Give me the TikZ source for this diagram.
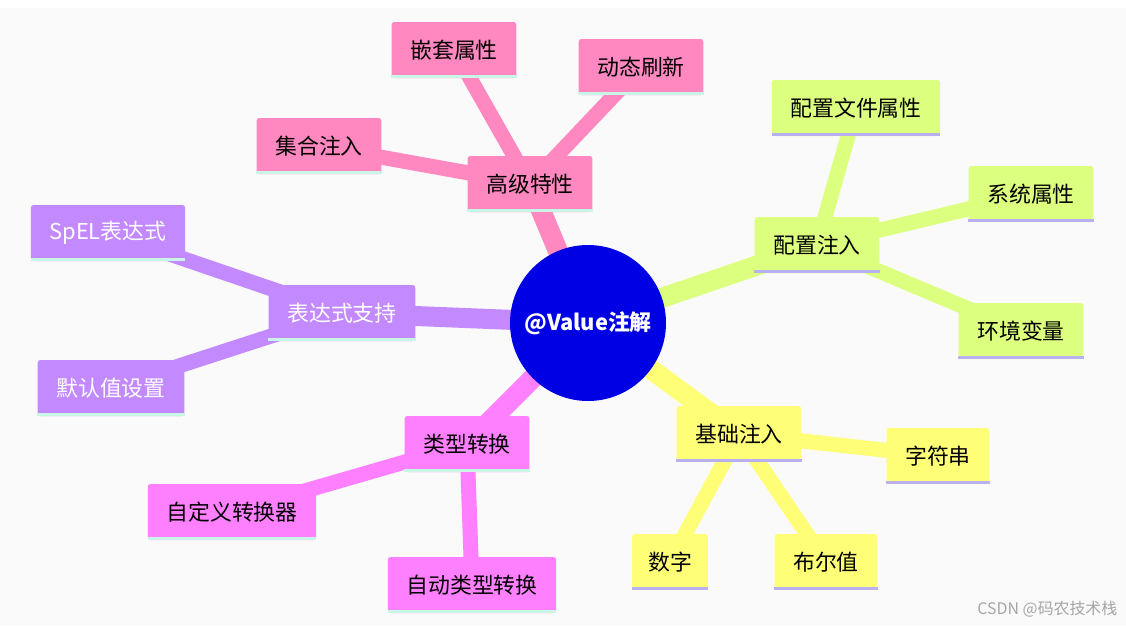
\documentclass[tikz,border=0pt]{standalone}
\usepackage{fontspec}
\setmainfont{Noto Sans CJK SC}
\usetikzlibrary{backgrounds}
\begin{document}
\begin{tikzpicture}[x=0.0265cm,y=-0.0265cm,
  box/.style={font=\fontsize{16.5}{19}\selectfont, inner xsep=14pt, minimum height=56*0.0265cm, rounded corners=2pt, text=black},
  pinkb/.style={box, fill=pinkc},
  limeb/.style={box, fill=limec},
  purb/.style={box, fill=purc, text=white},
  magb/.style={box, fill=magc},
  yelb/.style={box, fill=yelc},
  main/.style={line width=20*0.0265cm, line cap=round},
  sub/.style={line width=15*0.0265cm, line cap=round}]
\definecolor{pinkc}{HTML}{FF88C0}
\definecolor{limec}{HTML}{DDFF80}
\definecolor{purc}{HTML}{C38AFF}
\definecolor{magc}{HTML}{FF80FF}
\definecolor{yelc}{HTML}{FFFF77}
\definecolor{ulcyan}{HTML}{C8F5E6}
\definecolor{ullav}{HTML}{B8B0F0}
\useasboundingbox (0,0) rectangle (1126,626);
\newcommand\ul[2]{\draw[#2, line width=3.5*0.0265cm] ([yshift=1.5pt]#1.south west) -- ([yshift=1.5pt]#1.south east);}
\node[circle, fill=blue!90!black, minimum size=156*0.0265cm, text=white, font=\fontsize{16.5}{19}\selectfont\bfseries] (c) at (588,323) {@Value注解};
\path
 (530,184) node[pinkb] (g) {高级特性}
 (454,50) node[pinkb] (g1) {嵌套属性}
 (641,67) node[pinkb] (g2) {动态刷新}
 (319,146) node[pinkb] (g3) {集合注入}
 (817,245) node[limeb] (p) {配置注入}
 (856,108) node[limeb] (p1) {配置文件属性}
 (1031,194) node[limeb] (p2) {系统属性}
 (1021,331) node[limeb] (p3) {环境变量}
 (342,313) node[purb] (e) {表达式支持}
 (108,233) node[purb] (e1) {SpEL表达式}
 (111,388) node[purb] (e2) {默认值设置}
 (467,444) node[magb] (t) {类型转换}
 (232,512) node[magb] (t1) {自定义转换器}
 (472,585) node[magb] (t2) {自动类型转换}
 (739,434) node[yelb] (b) {基础注入}
 (938,456) node[yelb] (b1) {字符串}
 (670,562) node[yelb, inner xsep=12pt] (b2) {数字}
 (826,562) node[yelb] (b3) {布尔值};
\foreach \n in {g,g1,g2,g3,e,e1,e2,t,t1,t2} {\ul{\n}{ulcyan}}
\foreach \n in {p,p1,p2,p3,b,b1,b2,b3} {\ul{\n}{ullav}}
\node[text=black!35, font=\fontsize{12}{14}\selectfont, anchor=south east] (wm) at (1122,622) {CSDN @码农技术栈};
\begin{scope}[on background layer]
\fill[white] (0,0) rectangle (1126,626);
\fill[black!2] (0,8) rectangle (1126,626);
\draw[main, pinkc] (c.center) -- (g.center);
\draw[sub, pinkc] (g.center) -- (g1.center) (g.center) -- (g2.center) (g.center) -- (g3.center);
\draw[main, limec] (c.center) -- (p.center);
\draw[sub, limec] (p.center) -- (p1.center) (p.center) -- (p2.center) (p.center) -- (p3.center);
\draw[main, purc] (c.center) -- (e.center);
\draw[sub, purc] (e.center) -- (e1.center) (e.center) -- (e2.center);
\draw[main, magc] (c.center) -- (t.center);
\draw[sub, magc] (t.center) -- (t1.center) (t.center) -- (t2.center);
\draw[main, yelc] (c.center) -- (b.center);
\draw[sub, yelc] (b.center) -- (b1.center) (b.center) -- (b2.center) (b.center) -- (b3.center);
\end{scope}
\end{tikzpicture}
\end{document}
